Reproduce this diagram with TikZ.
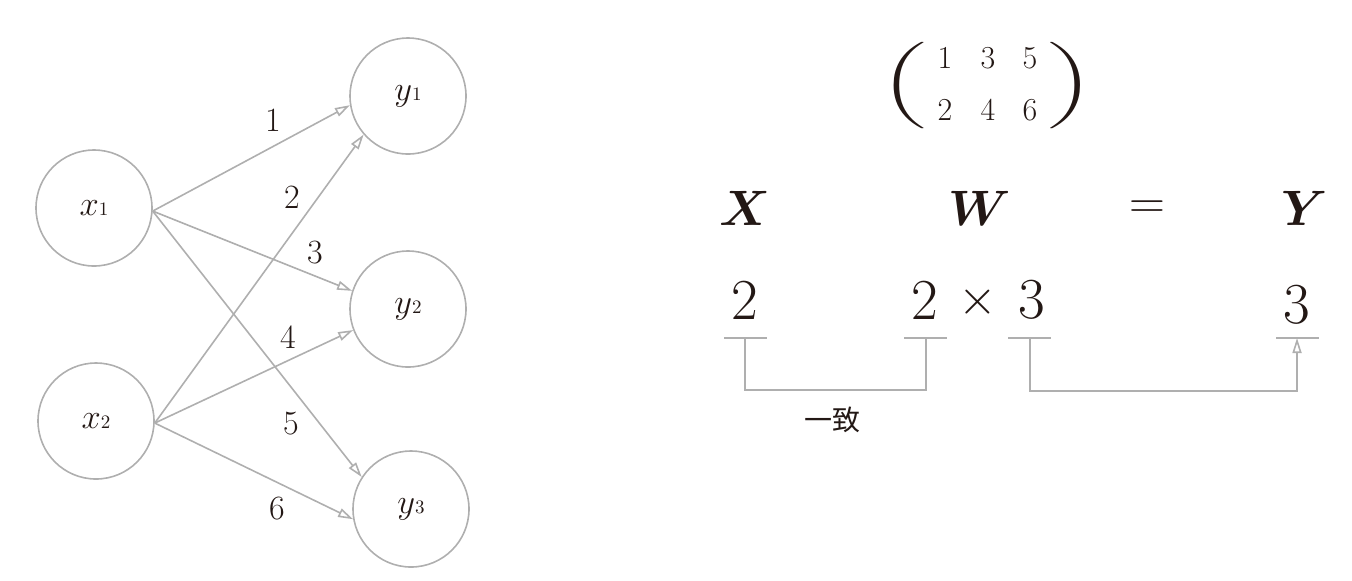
\documentclass[tikz,border=0pt]{standalone}
\usepackage{amsmath,bm}
\usepackage{fontspec}
\newfontfamily\cjk{Noto Sans CJK JP}
\usetikzlibrary{arrows.meta}
\definecolor{ink}{RGB}{35,24,21}
\definecolor{edge}{RGB}{175,175,175}
\tikzset{
  neuron/.style={circle,draw=edge,line width=0.8pt,minimum size=58pt,inner sep=0pt,text=ink},
  conn/.style={draw=edge,line width=0.8pt,-{Triangle[open,length=7.5pt,width=4.5pt]}},
  wlabel/.style={text=ink,font=\fontsize{17}{18}\selectfont,inner sep=0pt},
  ment/.style={text=ink,font=\fontsize{16}{17}\selectfont,inner sep=0pt},
  big/.style={text=ink,font=\fontsize{29}{30}\selectfont,inner sep=0pt},
  brk/.style={draw=edge,line width=0.8pt},
  paren/.style={text=ink,inner sep=0pt,font=\fontsize{14}{15}\selectfont},
}
\newcommand{\nlab}[2]{{\fontsize{19}{20}\selectfont$#1$}{\fontsize{9.5}{10}\selectfont #2}}
\begin{document}
\begin{tikzpicture}[x=0.5pt,y=-0.5pt]
\useasboundingbox (0,0) rectangle (1352,580);
% neurons
\node[neuron] (x1) at (94,208) {\nlab{x}{1}};
\node[neuron] (x2) at (96,421) {\nlab{x}{2}};
\node[neuron] (y1) at (408,96) {\nlab{y}{1}};
\node[neuron] (y2) at (408,309) {\nlab{y}{2}};
\node[neuron] (y3) at (411,509) {\nlab{y}{3}};
\draw[conn] (x1.-3) -- (y1.189);
\draw[conn] (x1.-3) -- (y2.162);
\draw[conn] (x1.-3) -- (y3.147);
\draw[conn] (x2.-2) -- (y1.221);
\draw[conn] (x2.-2) -- (y2.201);
\draw[conn] (x2.-2) -- (y3.190);
\node[wlabel] (w1) at (273,120) {1};
\node[wlabel] (w2) at (292,197) {2};
\node[wlabel] (w3) at (315,253) {3};
\node[wlabel] (w4) at (288,337) {4};
\node[wlabel] (w5) at (291,424) {5};
\node[wlabel] (w6) at (277,509) {6};
% matrix
\node[paren] (lp) at (903,86) {\scalebox{2}[1]{$\Bigg($}};
\node[paren] (rp) at (1071,86) {\scalebox{2}[1]{$\Bigg)$}};
\node[ment] (m11) at (945,58) {1};
\node[ment] (m12) at (988,58) {3};
\node[ment] (m13) at (1030,58) {5};
\node[ment] (m21) at (945,110) {2};
\node[ment] (m22) at (988,110) {4};
\node[ment] (m23) at (1030,110) {6};
% equation
\node[big] (X) at (745,208) {$\bm{X}$};
\node[big] (W) at (980,208) {$\bm{W}$};
\node[big] (eq) at (1147,210) {$=$};
\node[big] (Y) at (1305,208) {$\bm{Y}$};
\node[big] (n1) at (745,300) {2};
\node[big] (n2) at (925,300) {2};
\node[big] (tm) at (978,302) {$\times$};
\node[big] (n3) at (1032,300) {3};
\node[big] (n4) at (1297,305) {3};
% brackets
\coordinate (b1) at (745,338);
\coordinate (b2) at (926,338);
\coordinate (b3) at (1030,338);
\coordinate (b4) at (1297,338);
\draw[brk] (724,338) -- (767,338);
\draw[brk] (904,338) -- (947,338);
\draw[brk] (1008,338) -- (1051,338);
\draw[brk] (1276,338) -- (1319,338);
\draw[brk] (b1) |- (835,390) -| (b2);
\draw[conn] (b3) |- (1160,391) -| (b4);
\node[text=ink,font=\cjk\fontsize{14}{15}\selectfont,inner sep=0pt] (agree) at (832,420) {一致};
\end{tikzpicture}
\end{document}
